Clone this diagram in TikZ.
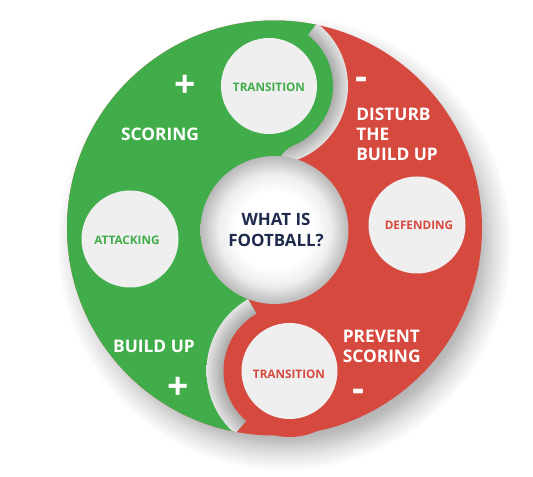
\documentclass[tikz,border=0pt]{standalone}
\usepackage{fontspec}
\setmainfont{Open Sans}
\usepackage{tikz}
\usetikzlibrary{positioning}

\definecolor{pitchgreen}{HTML}{41AD4A}
\definecolor{cardred}{HTML}{D6493E}
\definecolor{discgray}{HTML}{EFEFEF}
\definecolor{navytext}{HTML}{1F2B4C}

% the circle edge sits at 25bp of a radial shading
\pgfdeclareradialshading{dropshade}{\pgfpoint{0bp}{0bp}}{color(0bp)=(gray!65); color(20bp)=(gray!65); color(21.5bp)=(gray!52); color(23bp)=(gray!25); color(25bp)=(white); color(50bp)=(white)}
\pgfdeclareradialshading{gapshade}{\pgfpoint{0bp}{0bp}}{color(0bp)=(gray!72); color(19.5bp)=(gray!72); color(25bp)=(gray!22); color(50bp)=(gray!22)}
\pgfdeclareradialshading{holeshade}{\pgfpoint{0bp}{0bp}}{color(0bp)=(white); color(13bp)=(white); color(19bp)=(gray!14); color(25bp)=(gray!55); color(50bp)=(gray!55)}

\begin{document}
\begin{tikzpicture}[x=0.75pt, y=0.75pt]
    \tikzset{
        lbl/.style      =   { text=white
                            , font=\bfseries\fontsize{13}{15.2}\selectfont
                            , inner sep=0pt
                            , align=left
        }
        , inlbl/.style  =   { font=\bfseries\fontsize{8.8}{10}\selectfont
                            , inner sep=0pt
        }
        , sign/.style   =   { text=white
                            , font=\bfseries\fontsize{28}{28}\selectfont
                            , inner sep=0pt
        }
        , disc/.style   =   { fill=discgray
        }
    }
    \useasboundingbox (0,0) rectangle (533,-477);

    % centres of the wheel, the hole and the two rings
    \coordinate (c)  at (274.5,-228);
    \coordinate (h)  at (274.5,-230);
    \coordinate (t1) at (269,-86);
    \coordinate (t2) at (289.5,-371);
    \coordinate (q)  at (305.7,-138.4);
    \coordinate (p)  at (281,-156.3);
    \coordinate (gt) at (248,-299.1);

    % shadow and red half
    \shade[shading=dropshade] (284,-243) circle (228);
    \fill[cardred] (c) circle (207.5);
    \begin{scope}
        \clip (c) circle (207.5);
        \shade[shading=gapshade] (t1) circle (79);
    \end{scope}

    % green half
    \begin{scope}
        \clip (-20,40) -- (347.8,40) -- (347.8,17.4) -- (t1) -- (q)
            to[out=-145,in=60] (p) -- (h) -- (gt) -- (t2)
            -- (210.8,-461.6) -- (210.8,-500) -- (-20,-500) -- cycle;
        \clip (c) circle (207.5);
        \fill[pitchgreen] (c) circle (207.5);
        \shade[shading=gapshade] (t2) circle (83);
    \end{scope}

    % rings, hole and discs
    \fill[pitchgreen] (t1) circle (64);
    \fill[cardred]    (t2) circle (66);
    \shade[shading=holeshade] (h) circle (74);
    \fill[disc] (t1) circle (48);
    \fill[disc] (t2) circle (48);
    \fill[disc] (130,-239) circle (48.5);
    \fill[disc] (417,-225) circle (48.5);

    % texts
    \node(tr1)[inlbl, text=pitchgreen] at (269,-87)  {TRANSITION};
    \node(att)[inlbl, text=pitchgreen] at (127,-240) {ATTACKING};
    \node(def)[inlbl, text=cardred]    at (419,-225) {DEFENDING};
    \node(tr2)[inlbl, text=cardred]    at (289,-374) {TRANSITION};
    \node(what)[inner sep=0pt, align=center, text=navytext
               , font=\bfseries\fontsize{12.7}{16.1}\selectfont] at (276,-230) {WHAT IS\\FOOTBALL?};

    \node(scor)[lbl]              at (160,-134.5)   {SCORING};
    \node(bup) [lbl]              at (154,-346)     {BUILD UP};
    \node(dist)[lbl, anchor=west] at (356,-134.5)   {DISTURB\\THE\\BUILD UP};
    \node(prev)[lbl, anchor=west] at (342.5,-346.3) {PREVENT\\SCORING};

    \node(plus1) [sign] at (185,-86.7)    {+};
    \node(plus2) [sign] at (178,-388.7)   {+};
    \node(minus1)[sign] at (361.5,-83.8)  {-};
    \node(minus2)[sign] at (358.5,-395.3) {-};
\end{tikzpicture}
\end{document}
